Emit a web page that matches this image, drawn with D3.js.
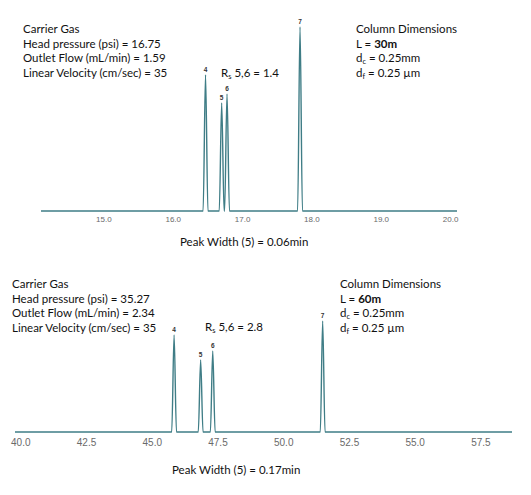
<!DOCTYPE html>
<html>
<head>
<meta charset="utf-8">
<script src="https://cdn.jsdelivr.net/npm/d3@7"></script>
<style>
  body { margin: 0; background: #fff; }
  svg { display: block; }
  .info { font-family: Lato, "Open Sans", sans-serif; font-size: 11.5px; fill: #111; }
  .tick-label { font-family: "Liberation Sans", Arial, sans-serif; fill: #6a6a6a; }
  .peak-label { font-family: "Liberation Sans", Arial, sans-serif; font-size: 6.5px; font-weight: bold; fill: #333; }
</style>
</head>
<body>
<svg id="chart" width="531" height="495"></svg>
<script>
// --- data ---
// 30 m column
const peakIds = ["4", "5", "6", "7"];
const topTimes = [16.473, 16.706, 16.783, 17.836];
const topHeights = [74, 58.7, 63.6, 100];
const topWidth = 0.07;
const topTicks = [15.0, 16.0, 17.0, 18.0, 19.0, 20.0];

// 60 m column
const botTimes = [45.85, 46.86, 47.32, 51.5];
const botHeights = [87.4, 64.9, 73, 100];
const botWidth = 0.18;
const botTicks = [40.0, 42.5, 45.0, 47.5, 50.0, 52.5, 55.0, 57.5];

const topLeftText = ["Carrier Gas", "Head pressure (psi) = 16.75", "Outlet Flow (mL/min) = 1.59", "Linear Velocity (cm/sec) = 35"];
const botLeftText = ["Carrier Gas", "Head pressure (psi) = 35.27", "Outlet Flow (mL/min) = 2.34", "Linear Velocity (cm/sec) = 35"];

const svg = d3.select("#chart");

function traceFrom(times, heights, w, domain) {
  // baseline -> foot, apex, foot for each peak -> baseline
  const pts = [[domain[0], 0]];
  times.forEach((t, i) => {
    pts.push([t - w / 2, 0], [t, heights[i]], [t + w / 2, 0]);
  });
  pts.push([domain[1], 0]);
  return pts;
}

function drawPanel(cfg) {
  const g = svg.append("g");
  const x = d3.scaleLinear().domain(cfg.domain).range(cfg.xRange);
  const y = d3.scaleLinear().domain([0, 100]).range(cfg.yRange);

  const line = d3.line()
    .x(d => x(d[0]))
    .y(d => y(d[1]))
    .curve(d3.curveMonotoneX);

  g.append("path")
    .datum(traceFrom(cfg.times, cfg.heights, cfg.width, cfg.domain))
    .attr("d", line)
    .attr("fill", "none")
    .attr("stroke", "#3f7d86")
    .attr("stroke-width", 1.4);

  g.selectAll(".peak-label")
    .data(cfg.times)
    .join("text")
    .attr("class", "peak-label")
    .attr("x", d => x(d))
    .attr("y", (d, i) => y(cfg.heights[i]) - 3)
    .attr("text-anchor", "middle")
    .text((d, i) => peakIds[i]);

  // axis: labels only, the trace baseline doubles as the axis line
  const axis = d3.axisBottom(x).tickValues(cfg.ticks).tickFormat(d3.format(".1f")).tickSize(0).tickPadding(0);
  const ax = g.append("g")
    .attr("transform", `translate(0,${cfg.axisY})`)
    .call(axis);
  ax.select(".domain").remove();
  ax.selectAll("text")
    .attr("class", "tick-label")
    .attr("dy", 0)
    .attr("y", 0)
    .style("font-size", cfg.tickFont + "px");

  // info blocks
  const left = g.append("text").attr("class", "info");
  cfg.leftText.forEach((s, i) => {
    left.append("tspan").attr("x", cfg.leftX).attr("y", cfg.textY + i * cfg.lineGap).text(s);
  });

  const right = g.append("text").attr("class", "info");
  right.append("tspan").attr("x", cfg.rightX).attr("y", cfg.textY).text("Column Dimensions");
  right.append("tspan").attr("x", cfg.rightX).attr("y", cfg.textY + cfg.lineGap).text("L = ");
  right.append("tspan").attr("font-weight", "bold").text(cfg.length);
  right.append("tspan").attr("x", cfg.rightX).attr("y", cfg.textY + 2 * cfg.lineGap).text("d");
  right.append("tspan").attr("font-size", "7.5px").attr("dy", 2).text("c");
  right.append("tspan").attr("dy", -2).text(" = 0.25mm");
  right.append("tspan").attr("x", cfg.rightX).attr("y", cfg.textY + 3 * cfg.lineGap).text("d");
  right.append("tspan").attr("font-size", "7.5px").attr("dy", 2).text("f");
  right.append("tspan").attr("dy", -2).text(" = 0.25 \u00b5m");

  const rs = g.append("text").attr("class", "info").attr("x", cfg.rsX).attr("y", cfg.rsY);
  rs.append("tspan").text("R");
  rs.append("tspan").attr("font-size", "7.5px").attr("dy", 2).text("s");
  rs.append("tspan").attr("dy", -2).text(" 5,6 = " + cfg.rs);

  g.append("text").attr("class", "info")
    .attr("x", cfg.pwX).attr("y", cfg.pwY)
    .text("Peak Width (5) = " + cfg.pw);
}

drawPanel({
  domain: [14.1, 20.1], xRange: [41, 457], yRange: [211, 27],
  times: topTimes, heights: topHeights, width: topWidth, ticks: topTicks,
  axisY: 222, tickFont: 8,
  leftText: topLeftText, leftX: 23, rightX: 356, textY: 33, lineGap: 14.5,
  length: "30m", rs: "1.4", rsX: 221, rsY: 77,
  pw: "0.06min", pwX: 180, pwY: 246
});

drawPanel({
  domain: [39.8, 58.7], xRange: [15, 512], yRange: [432, 321],
  times: botTimes, heights: botHeights, width: botWidth, ticks: botTicks,
  axisY: 446, tickFont: 10,
  leftText: botLeftText, leftX: 12, rightX: 340, textY: 288, lineGap: 14.5,
  length: "60m", rs: "2.8", rsX: 205, rsY: 331,
  pw: "0.17min", pwX: 172, pwY: 474
});
</script>
</body>
</html>
